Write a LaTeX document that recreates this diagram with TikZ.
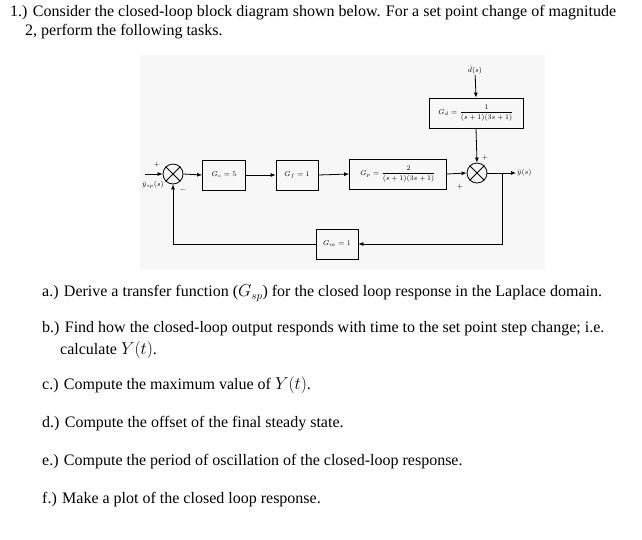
\documentclass[tikz,border=0pt]{standalone}
\usepackage{amsmath}
\usepackage{fontspec}
\setmainfont{Liberation Serif}
\usetikzlibrary{arrows.meta}
\begin{document}
\begin{tikzpicture}[x=1pt,y=-1pt,
  blk/.style={draw,thick,minimum height=30pt,inner sep=1pt,font=\fontsize{7.5}{8}\selectfont},
  sm/.style={draw,thick,circle,minimum size=20pt,inner sep=0pt},
  ar/.style={thick,-{Latex[length=5pt,width=4pt]}},
  ln/.style={thick},
  tx/.style={anchor=west,inner sep=0pt,font=\fontsize{16}{18}\selectfont},
  lb/.style={font=\fontsize{7.5}{8}\selectfont,inner sep=1pt}]
\useasboundingbox (0,0) rectangle (642,539);
\fill[black!3] (140,55) rectangle (545,270);
\node[tx] (t1) at (10,13) {1.) Consider the closed-loop block diagram shown below. For a set point change of magnitude};
\node[tx] (t2) at (25,32) {2, perform the following tasks.};
% diagram
\coordinate (in) at (145,174);
\node[sm] (s1) at (173,174) {};
\draw[thick] (s1.45)--(s1.225) (s1.135)--(s1.315);
\node[blk,minimum width=43pt] (gc) at (224,175) {$G_c=5$};
\node[blk,minimum width=42pt] (gf) at (297,175) {$G_f=1$};
\node[blk,minimum width=97pt] (gp) at (398,174) {$G_p=\dfrac{2}{(s+1)(3s+1)}$};
\node[sm] (s2) at (477,173) {};
\draw[thick] (s2.45)--(s2.225) (s2.135)--(s2.315);
\node[blk,minimum width=94pt] (gd) at (476,113) {$G_d=\dfrac{1}{(s+1)(3s+1)}$};
\node[lb] (d) at (475,70) {$\bar d(s)$};
\coordinate (j) at (502,173);
\node[lb,anchor=west] (y) at (516,173) {$\bar y(s)$};
\node[blk,minimum width=42pt] (gm) at (337,244) {$G_m=1$};
\draw[ar] (in)--(s1.west);
\node[lb,anchor=north west] (ysp) at (141,180) {$\bar y_{sp}(s)$};
\node[lb] (p1) at (157,165) {$+$};
\node[lb] (m1) at (183,190) {$-$};
\draw[ar] (s1.east)--(gc.west);
\draw[ar] (gc.east)--(gf.west);
\draw[ar] (gf.east)--(gp.west);
\draw[ar] (gp.east)--(s2.west);
\draw[ar] (d)--(gd.north);
\draw[ar] (gd.south)--(s2.north);
\node[lb] (p2) at (485,158) {$+$};
\node[lb] (p3) at (460,187) {$+$};
\draw[ln] (s2.east)--(j);
\draw[ar] (j)--(y.west);
\draw[ar] (j)|-(gm.east);
\draw[ar] (gm.west)-|(s1.south);
% questions
\node[tx] (a) at (42,293) {a.) Derive a transfer function ($G_{sp}$) for the closed loop response in the Laplace domain.};
\node[tx] (b) at (42,329) {b.) Find how the closed-loop output responds with time to the set point step change; i.e.};
\node[tx] (b2) at (60,350) {calculate $Y(t)$.};
\node[tx] (c) at (42,385) {c.) Compute the maximum value of $Y(t)$.};
\node[tx] (dd) at (42,424) {d.) Compute the offset of the final steady state.};
\node[tx] (e) at (42,462) {e.) Compute the period of oscillation of the closed-loop response.};
\node[tx] (f) at (42,500) {f.) Make a plot of the closed loop response.};
\end{tikzpicture}
\end{document}
